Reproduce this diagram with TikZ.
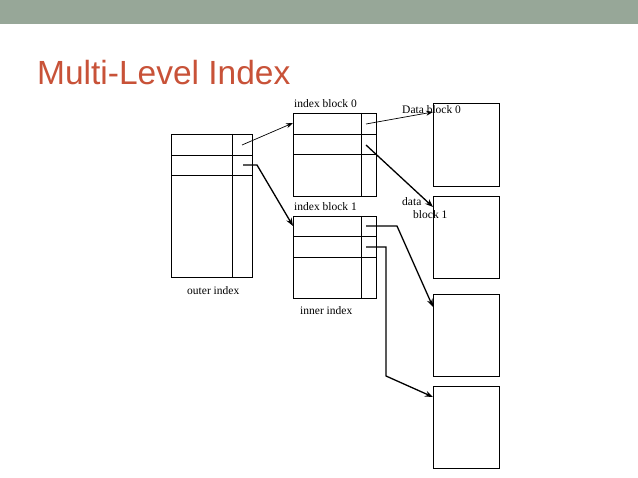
\documentclass[tikz,border=0pt]{standalone}
\usepackage{fontspec}
\usetikzlibrary{arrows.meta}
\newfontfamily\titlefont{Liberation Sans}
\newfontfamily\labfont{Liberation Serif}
\begin{document}
\begin{tikzpicture}[x=1pt,y=-1pt,
  bx/.style={draw,line width=0.8pt},
  thin/.style={-{Stealth[length=7pt,width=5pt]},line width=0.7pt},
  thick/.style={-{Stealth[length=8pt,width=6pt]},line width=1.3pt},
  lab/.style={font=\labfont\fontsize{11.5}{12}\selectfont,inner sep=0pt,anchor=west}]
\useasboundingbox (0,0) rectangle (638,478);
\fill[white] (0,0) rectangle (638,478);
\fill[fill={rgb,255:red,151;green,167;blue,152}] (0,0) rectangle (638,24);
\node[font=\titlefont\fontsize{33.5}{36}\selectfont,text={rgb,255:red,200;green,82;blue,56},anchor=west,inner sep=0pt] (title) at (37,73) {Multi-Level Index};
% outer index
\draw[bx] (171,134) rectangle (252,277);
\draw[bx] (232,134) -- (232,277) (171,155) -- (252,155) (171,175) -- (252,175);
\node[lab] (ol) at (187,291) {outer index};
% index block 0
\draw[bx] (293,113) rectangle (376,196);
\draw[bx] (361,113) -- (361,196) (293,134) -- (376,134) (293,154) -- (376,154);
\node[lab] (l0) at (294,104) {index block 0};
% index block 1
\draw[bx] (293,216) rectangle (376,298);
\draw[bx] (361,216) -- (361,298) (293,236) -- (376,236) (293,257) -- (376,257);
\node[lab] (l1) at (294,207) {index block 1};
\node[lab] (il) at (300,311) {inner index};
% data blocks
\node[bx,minimum width=66,minimum height=83,inner sep=0,anchor=north west] (d0) at (433,103) {};
\node[bx,minimum width=66,minimum height=82,inner sep=0,anchor=north west] (d1) at (433,196) {};
\node[bx,minimum width=66,minimum height=82,inner sep=0,anchor=north west] (d2) at (433,294) {};
\node[bx,minimum width=66,minimum height=82,inner sep=0,anchor=north west] (d3) at (433,386) {};
\node[lab] (dl0) at (402,110) {Data block 0};
\node[lab] (dl1a) at (402,202) {data};
\node[lab] (dl1b) at (413,215) {block 1};
% arrows
\coordinate (a1) at (242,145); \coordinate (b1) at (293,123);
\draw[thin] (a1) -- (b1);
\coordinate (a2) at (243,165); \coordinate (a2b) at (257,165); \coordinate (b2) at (293,226);
\draw[thick] (a2) -- (a2b) -- (b2);
\coordinate (a3) at (366,124); \coordinate (b3) at (433,112);
\draw[thin] (a3) -- (b3);
\coordinate (a4) at (366,145); \coordinate (b4) at (433,207);
\draw[thick] (a4) -- (b4);
\coordinate (a5) at (366,226); \coordinate (a5b) at (397,226); \coordinate (b5) at (433,307);
\draw[thick] (a5) -- (a5b) -- (b5);
\coordinate (a6) at (366,247); \coordinate (a6b) at (386,247); \coordinate (a6c) at (386,376); \coordinate (b6) at (433,397);
\draw[thick] (a6) -- (a6b) -- (a6c) -- (b6);
\end{tikzpicture}
\end{document}
